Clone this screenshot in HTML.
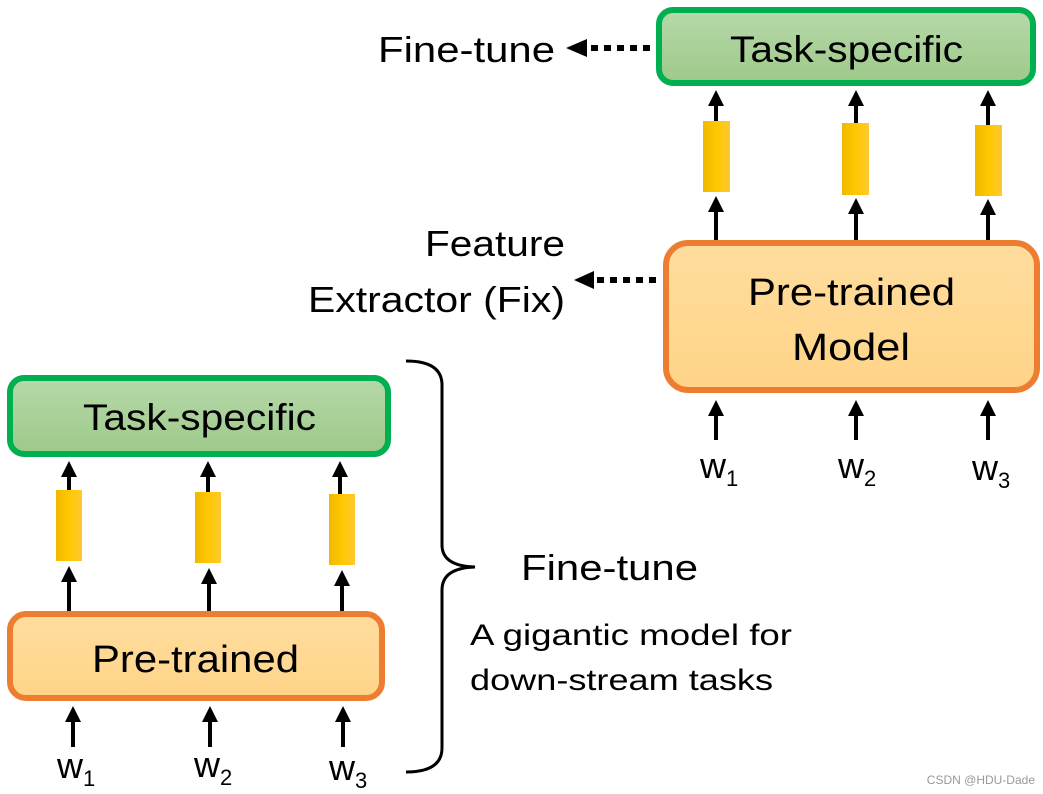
<!DOCTYPE html>
<html><head><meta charset="utf-8"><style>
html,body{margin:0;padding:0;background:#fff;}
svg{display:block;}
text{font-family:"Liberation Sans","DejaVu Sans",sans-serif;fill:#000;}
</style></head><body>
<svg width="1043" height="794" viewBox="0 0 1043 794" xmlns="http://www.w3.org/2000/svg">
<defs>
<linearGradient id="g" x1="0" y1="0" x2="0" y2="1"><stop offset="0" stop-color="#b7d8aa"/><stop offset="1" stop-color="#9dca89"/></linearGradient>
<linearGradient id="o" x1="0" y1="0" x2="0" y2="1"><stop offset="0" stop-color="#ffdd9e"/><stop offset="1" stop-color="#ffd488"/></linearGradient>
<linearGradient id="y" x1="0" y1="0" x2="1" y2="0"><stop offset="0" stop-color="#f0b800"/><stop offset="0.5" stop-color="#ffc800"/><stop offset="1" stop-color="#ffc930"/></linearGradient>
<marker id="a" markerWidth="4" markerHeight="4" refX="2" refY="2" orient="auto" markerUnits="strokeWidth"><path d="M0,0 L4,2 L0,4 z" fill="#000"/></marker>
</defs>

<!-- top right -->
<rect x="659" y="10" width="374" height="73" rx="14" fill="url(#g)" stroke="#00b050" stroke-width="6"/>
<text x="730" y="62" font-size="37" textLength="233" lengthAdjust="spacingAndGlyphs">Task-specific</text>
<rect x="666" y="243" width="371" height="147" rx="22" fill="url(#o)" stroke="#ed7d31" stroke-width="6"/>
<text x="748" y="305" font-size="38" textLength="207" lengthAdjust="spacingAndGlyphs">Pre-trained</text>
<text x="792" y="360" font-size="38" textLength="118" lengthAdjust="spacingAndGlyphs">Model</text>
<rect x="703" y="121" width="27" height="71" fill="url(#y)"/>
<rect x="842" y="123" width="27" height="72" fill="url(#y)"/>
<rect x="975" y="125" width="27" height="71" fill="url(#y)"/>
<g stroke="#000" stroke-width="4" fill="none" marker-end="url(#a)">
<line x1="716" y1="240" x2="716" y2="204"/><line x1="856" y1="240" x2="856" y2="206"/><line x1="988" y1="240" x2="988" y2="207"/>
<line x1="716" y1="121" x2="716" y2="98"/><line x1="856" y1="123" x2="856" y2="98"/><line x1="988" y1="125" x2="988" y2="98"/>
<line x1="716" y1="440" x2="716" y2="408"/><line x1="856" y1="440" x2="856" y2="408"/><line x1="988" y1="440" x2="988" y2="408"/>
</g>
<text x="700" y="478" font-size="36">w<tspan font-size="22" dy="8">1</tspan></text>
<text x="838" y="478" font-size="36">w<tspan font-size="22" dy="8">2</tspan></text>
<text x="972" y="480" font-size="36">w<tspan font-size="22" dy="8">3</tspan></text>

<text x="378" y="62" font-size="36" textLength="177" lengthAdjust="spacingAndGlyphs">Fine-tune</text>
<line x1="650" y1="48" x2="590" y2="48" stroke="#000" stroke-width="6" stroke-dasharray="7,6"/>
<path d="M566,48 L587,39 L587,57 z" fill="#000"/>
<text x="425" y="256" font-size="36" textLength="140" lengthAdjust="spacingAndGlyphs">Feature</text>
<text x="308" y="312" font-size="36" textLength="257" lengthAdjust="spacingAndGlyphs">Extractor (Fix)</text>
<line x1="656" y1="280" x2="596" y2="280" stroke="#000" stroke-width="6" stroke-dasharray="7,6"/>
<path d="M574,280 L594,271 L594,289 z" fill="#000"/>

<!-- bottom left -->
<rect x="10" y="378" width="378" height="76" rx="14" fill="url(#g)" stroke="#00b050" stroke-width="6"/>
<text x="83" y="430" font-size="37" textLength="233" lengthAdjust="spacingAndGlyphs">Task-specific</text>
<rect x="10" y="614" width="372" height="84" rx="16" fill="url(#o)" stroke="#ed7d31" stroke-width="6"/>
<text x="92" y="672" font-size="38" textLength="207" lengthAdjust="spacingAndGlyphs">Pre-trained</text>
<rect x="56" y="490" width="26" height="71" fill="url(#y)"/>
<rect x="195" y="492" width="26" height="71" fill="url(#y)"/>
<rect x="329" y="494" width="26" height="71" fill="url(#y)"/>
<g stroke="#000" stroke-width="4" fill="none" marker-end="url(#a)">
<line x1="69" y1="611" x2="69" y2="574"/><line x1="209" y1="611" x2="209" y2="576"/><line x1="342" y1="611" x2="342" y2="578"/>
<line x1="69" y1="490" x2="69" y2="469"/><line x1="208" y1="492" x2="208" y2="469"/><line x1="340" y1="494" x2="340" y2="469"/>
<line x1="73" y1="747" x2="73" y2="714"/><line x1="210" y1="747" x2="210" y2="714"/><line x1="343" y1="747" x2="343" y2="714"/>
</g>
<text x="57" y="778" font-size="36">w<tspan font-size="22" dy="8">1</tspan></text>
<text x="194" y="777" font-size="36">w<tspan font-size="22" dy="8">2</tspan></text>
<text x="329" y="780" font-size="36">w<tspan font-size="22" dy="8">3</tspan></text>

<path d="M406,361 Q442,361 442,385 L442,545 Q442,566 475,567 Q442,568 442,590 L442,748 Q442,772 406,772" fill="none" stroke="#000" stroke-width="3"/>
<text x="521" y="580" font-size="36" textLength="177" lengthAdjust="spacingAndGlyphs">Fine-tune</text>
<text x="470" y="645" font-size="30" textLength="322" lengthAdjust="spacingAndGlyphs">A gigantic model for</text>
<text x="470" y="690" font-size="30" textLength="303" lengthAdjust="spacingAndGlyphs">down-stream tasks</text>
<text x="1035" y="784" font-size="12" text-anchor="end" style="fill:#999">CSDN @HDU-Dade</text>
</svg>
</body></html>
